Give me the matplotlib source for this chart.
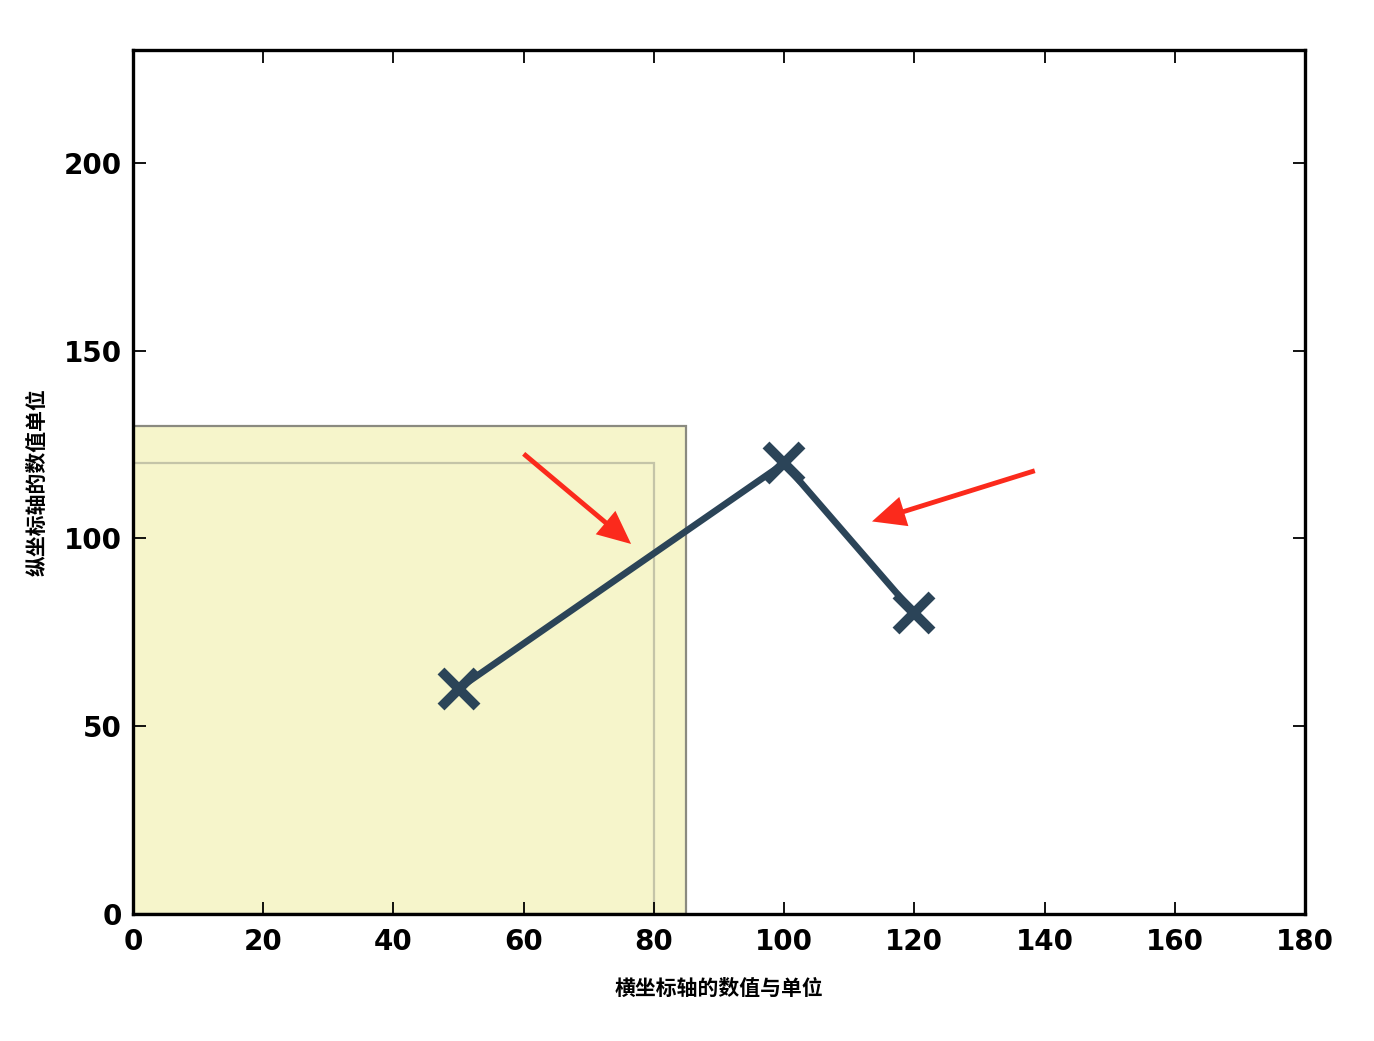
import numpy as np
import matplotlib
matplotlib.use('Agg')
import matplotlib.pyplot as plt
from matplotlib.patches import Rectangle

plt.rcParams['font.family'] = ['DejaVu Sans']

# data
x_vals = [50, 100, 120]
y_vals = [60, 120, 80]

x_ticks = [0, 20, 40, 60, 80, 100, 120, 140, 160, 180]
y_ticks = [0, 50, 100, 150, 200]

x_label = '横坐标轴的数值与单位'
y_label = '纵坐标轴的数值单位'

# shaded boxes: (width, height)
outer_box = (85, 130)
inner_box = (80, 120)

# arrows: (start, tip)
arrow1 = ((60, 122.5), (76.5, 98.5))
arrow2 = ((138.5, 118), (113.5, 104.5))

fig = plt.figure(figsize=(13.74, 10.41), dpi=100)
ax = fig.add_axes([133 / 1374, 1 - 914 / 1041, (1305 - 133) / 1374, (914 - 50) / 1041])

ax.add_patch(Rectangle((0, 0), outer_box[0], outer_box[1], facecolor='#f6f5cb',
                       edgecolor='#8a8a80', linewidth=1.6, zorder=1))
ax.add_patch(Rectangle((0, 0), inner_box[0], inner_box[1], facecolor='none',
                       edgecolor='#c4c4a8', linewidth=1.6, zorder=1))

ax.plot(x_vals, y_vals, color='#2b4458', linewidth=4.8, marker='x',
        markersize=26, markeredgewidth=7, zorder=3)

for start, tip in [arrow1, arrow2]:
    ax.annotate('', xy=tip, xytext=start,
                arrowprops=dict(facecolor='#fb2a1c', edgecolor='none',
                                width=3.5, headwidth=22, headlength=24, shrink=0),
                zorder=4)

ax.set_xlim(0, 180)
ax.set_ylim(0, 230)
ax.set_xticks(x_ticks)
ax.set_yticks(y_ticks)
ax.tick_params(direction='in', top=True, right=True, length=9, width=1.3,
               labelsize=20, pad=8)
ax.tick_params(axis='x', pad=10)
for lbl in ax.get_xticklabels() + ax.get_yticklabels():
    lbl.set_fontweight('bold')
for s in ax.spines.values():
    s.set_linewidth(2.4)

ax.set_xlabel(x_label, family=['Noto Sans CJK SC', 'DejaVu Sans'], fontsize=15,
              fontweight='bold', labelpad=16)
ax.set_ylabel(y_label, family=['Noto Sans CJK SC', 'DejaVu Sans'], fontsize=15,
              fontweight='bold', labelpad=12)

fig.savefig('out.png', dpi=100)
